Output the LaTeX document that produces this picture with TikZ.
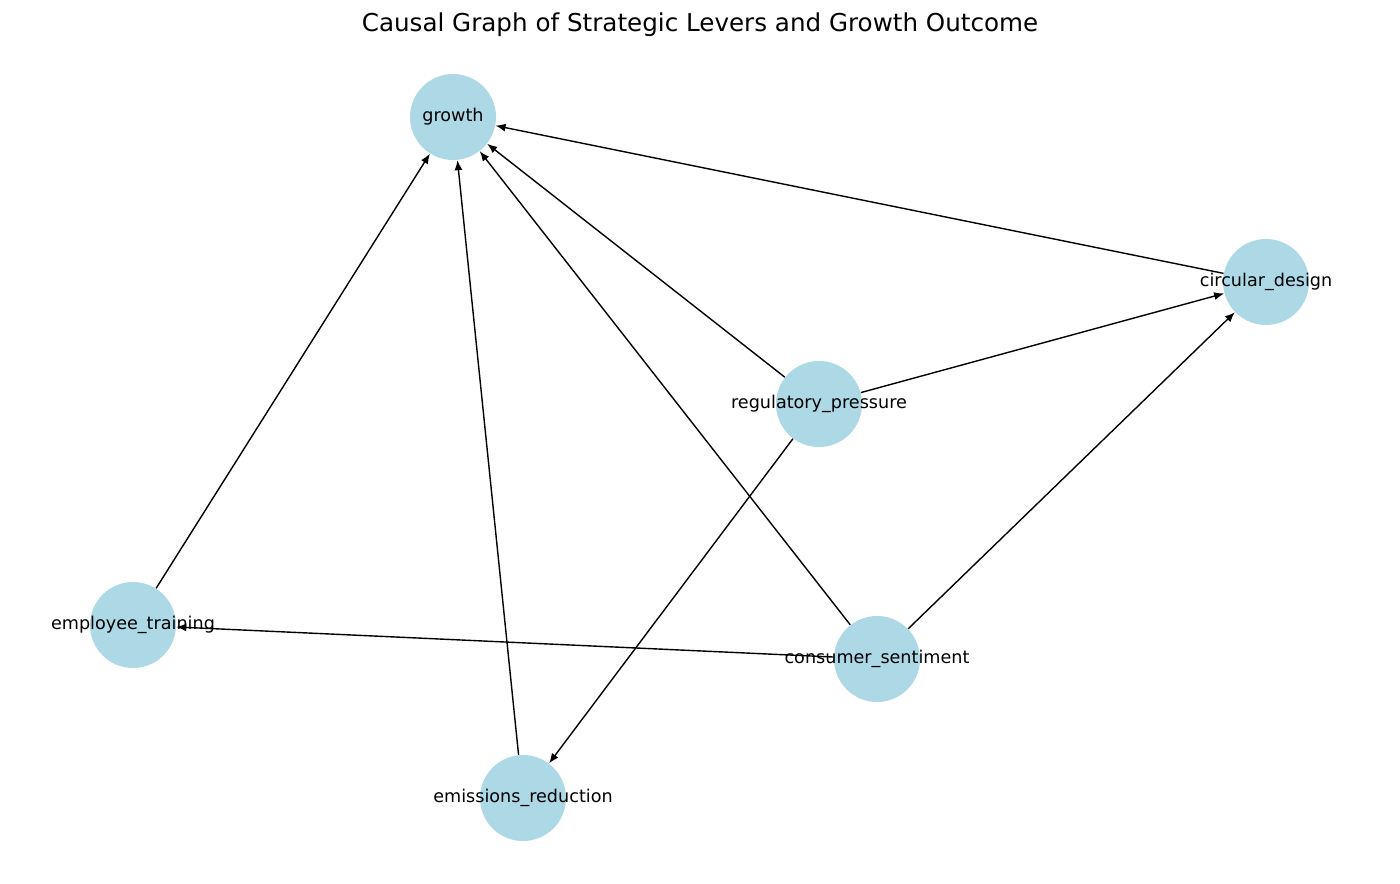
\documentclass[tikz,border=0pt]{standalone}
\usepackage{fontspec}
\setmainfont{DejaVu Sans}
\usetikzlibrary{arrows.meta}
\definecolor{nodeblue}{RGB}{173,216,230}
\begin{document}
\begin{tikzpicture}[x=0.5pt, y=-0.5pt,
  var/.style={circle, fill=nodeblue, minimum size=43pt, inner sep=0pt,
    label={[font=\fontsize{8.8}{10}\selectfont]center:#1}},
  cause/.style={-{Latex[length=5pt,width=4pt]}, line width=0.7pt}]
\useasboundingbox (0,0) rectangle (1400,883);
%%% title %%%
\node (title) at (700,25) {\fontsize{12.3}{14}\selectfont Causal Graph of Strategic Levers and Growth Outcome};
%%% variables %%%
\node[var=growth]                 (growth)     at (453,117) {};
\node[var=circular\_design]       (circular)   at (1266,282) {};
\node[var=regulatory\_pressure]   (regulatory) at (819,404) {};
\node[var=employee\_training]     (training)   at (133,625) {};
\node[var=consumer\_sentiment]    (consumer)   at (877,659) {};
\node[var=emissions\_reduction]   (emissions)  at (523,798) {};
%%% causal links %%%
\draw[cause] (training)   -- (growth);
\draw[cause] (emissions)  -- (growth);
\draw[cause] (regulatory) -- (growth);
\draw[cause] (consumer)   -- (growth);
\draw[cause] (circular)   -- (growth);
\draw[cause] (regulatory) -- (circular);
\draw[cause] (regulatory) -- (emissions);
\draw[cause] (consumer)   -- (circular);
\draw[cause] (consumer)   -- (training);
\end{tikzpicture}
\end{document}
